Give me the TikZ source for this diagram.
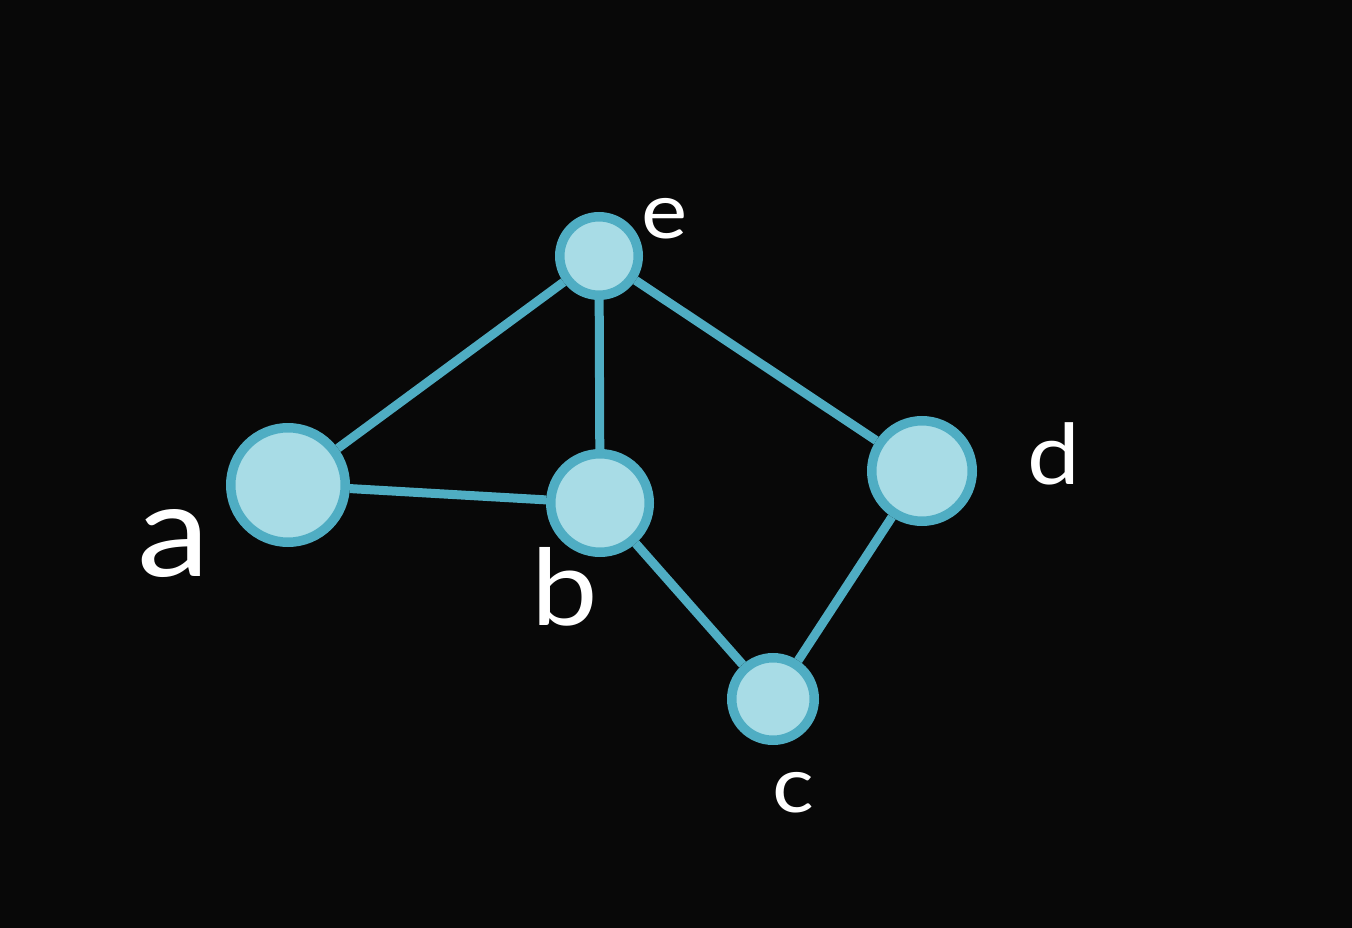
\documentclass[tikz,border=0pt]{standalone}
\usepackage{fontspec}
\setmainfont{Lato}
\definecolor{c080808}{RGB}{8,8,8}
\definecolor{ca8dce6}{RGB}{168,220,230}
\definecolor{c4fadc3}{RGB}{79,173,195}
\definecolor{cffffff}{RGB}{255,255,255}

\begin{document}
\begin{tikzpicture}[y=-1pt, x=1pt, inner sep=0pt,
  vertex/.style={circle, draw=c4fadc3, fill=ca8dce6, line width=9.5pt},
  vlabel/.style={text=cffffff, anchor=base, xscale=1.12},
  edge/.style={draw=c4fadc3, line width=9pt, line cap=butt}]
  \path[fill=c080808] (0.0, 0.0) rectangle (1352.0, 928.0);

  \node[vertex,minimum size=114.5pt] (a) at (288.0, 485.0){};
  \node[vertex,minimum size=98.5pt] (b) at (600.0, 503.0){};
  \node[vertex,minimum size=82.5pt] (c) at (773.0, 699.0){};
  \node[vertex,minimum size=100.5pt] (d) at (922.0, 471.0){};
  \node[vertex,minimum size=78.5pt] (e) at (599.0, 256.0){};

  \path[edge] (a) -- (e);
  \path[edge] (a) -- (b);
  \path[edge] (e) -- (b);
  \path[edge] (e) -- (d);
  \path[edge] (b) -- (c);
  \path[edge] (c) -- (d);

  \node[vlabel,font=\fontsize{130}{130}\selectfont] (text_a) at (173.5, 576.0){a};
  \node[vlabel,font=\fontsize{106}{106}\selectfont] (text_b) at (564.5, 625.0){b};
  \node[vlabel,font=\fontsize{78}{78}\selectfont] (text_c) at (793.0, 812.0){c};
  \node[vlabel,font=\fontsize{84}{84}\selectfont] (text_d) at (1054.0, 484.0){d};
  \node[vlabel,font=\fontsize{78}{78}\selectfont] (text_e) at (664.5, 239.0){e};
\end{tikzpicture}
\end{document}
